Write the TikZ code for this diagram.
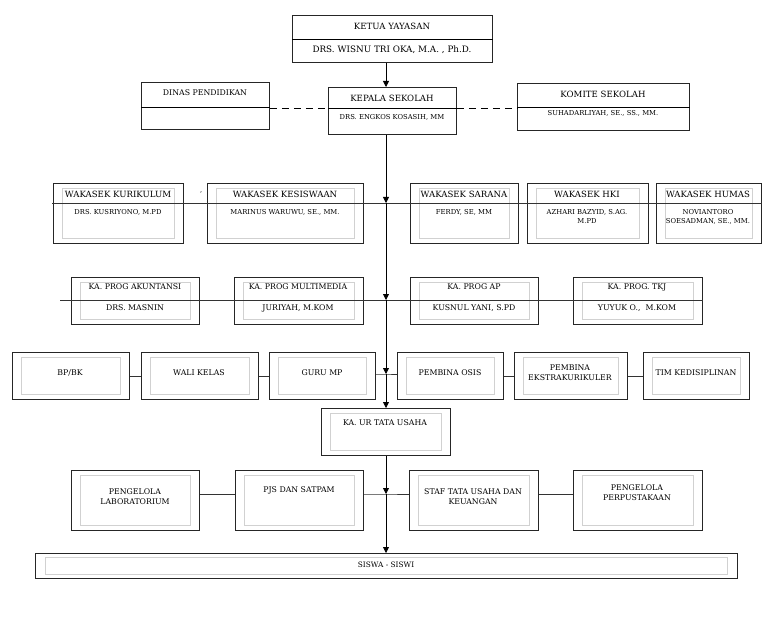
\documentclass[tikz,border=0pt]{standalone}
\usepackage{fontspec}
\setmainfont{DejaVu Serif}
\usetikzlibrary{arrows.meta,shadows}

\begin{document}
\begin{tikzpicture}[x=1pt,y=-1pt,
  hbox/.style 2 args={draw=black!85,line width=0.9pt,anchor=north west,inner sep=0pt,minimum width=#1,minimum height=#2},
  obox/.style 2 args={hbox={#1}{#2},fill=white,
    drop shadow={shadow xshift=0.9pt,shadow yshift=-0.9pt,fill=black!80,opacity=1},
    path picture={\draw[black!18,line width=0.8pt]
      ([shift={(9pt,-5pt)}]path picture bounding box.north west) rectangle
      ([shift={(-9pt,5pt)}]path picture bounding box.south east);}},
  ttl/.style={font=\fontsize{8.6}{10}\selectfont,inner sep=0pt},
  mid/.style={font=\fontsize{7.8}{10}\selectfont,inner sep=0pt,align=center},
  nm/.style={font=\fontsize{6.8}{9.5}\selectfont,inner sep=0pt,align=center,anchor=north},
  rowline/.style={black!80,line width=0.9pt},
  arr/.style={black,line width=0.8pt,-{Triangle[length=6pt,width=6pt]}}]
  \useasboundingbox (0,0) rectangle (768,639);

  % pimpinan
  \node[hbox={200pt}{47pt}] (ketua) at (292,15) {};
  \draw[line width=0.9pt] (ketua.west |- 0,39) -- (ketua.east |- 0,39);
  \node[ttl] (ketuat) at (392,26) {KETUA YAYASAN};
  \node[mid,font=\fontsize{8.8}{10}\selectfont] (ketuan) at (392,50) {DRS. WISNU TRI OKA, M.A. , Ph.D.};

  \node[hbox={128pt}{47pt}] (dinas) at (141,82) {};
  \draw[line width=0.9pt] (dinas.west |- 0,107) -- (dinas.east |- 0,107);
  \node[mid] (dinast) at (205,93) {DINAS PENDIDIKAN};

  \node[hbox={128pt}{47pt}] (kepala) at (328,87) {};
  \draw[line width=0.9pt] (kepala.west |- 0,108) -- (kepala.east |- 0,108);
  \node[ttl] (kepalat) at (392,98) {KEPALA SEKOLAH};
  \node[nm] (kepalan) at (392,114) {DRS. ENGKOS KOSASIH, MM};

  \node[hbox={172pt}{47pt}] (komite) at (517,83) {};
  \draw[line width=0.9pt] (komite.west |- 0,107) -- (komite.east |- 0,107);
  \node[ttl] (komitet) at (603,94) {KOMITE SEKOLAH};
  \node[nm] (komiten) at (603,110) {SUHADARLIYAH, SE., SS., MM.};

  \draw[line width=0.9pt,dash pattern=on 7pt off 5pt] (dinas.east |- 0,108) -- (kepala.west |- 0,108);
  \draw[line width=0.9pt,dash pattern=on 7pt off 5pt] (kepala.east |- 0,108) -- (komite.west |- 0,108);

  % wakil kepala sekolah
  \node[obox={130pt}{60pt}] (wk1) at (53,183) {};
  \node[obox={156pt}{60pt}] (wk2) at (207,183) {};
  \node[obox={108pt}{60pt}] (wk3) at (410,183) {};
  \node[obox={121pt}{60pt}] (wk4) at (527,183) {};
  \node[obox={105pt}{60pt}] (wk5) at (656,183) {};
  \node[ttl] (wk1t) at (118,194) {WAKASEK KURIKULUM};
  \node[ttl] (wk2t) at (285,194) {WAKASEK KESISWAAN};
  \node[ttl] (wk3t) at (464,194) {WAKASEK SARANA};
  \node[ttl] (wk4t) at (587,194) {WAKASEK HKI};
  \node[ttl] (wk5t) at (708,194) {WAKASEK HUMAS};
  \node[nm] (wk1n) at (118,209) {DRS. KUSRIYONO, M.PD};
  \node[nm] (wk2n) at (285,209) {MARINUS WARUWU, SE., MM.};
  \node[nm] (wk3n) at (464,209) {FERDY, SE, MM};
  \node[nm] (wk4n) at (587,209) {AZHARI BAZYID, S.AG.\\M.PD};
  \node[nm] (wk5n) at (708,209) {NOVIANTORO\\SOESADMAN, SE., MM.};
  \node[nm] (tick) at (201,191) {`};

  % ketua program keahlian
  \node[obox={128pt}{47pt}] (ak) at (71,277) {};
  \node[obox={129pt}{47pt}] (mm) at (234,277) {};
  \node[obox={128pt}{47pt}] (ap) at (410,277) {};
  \node[obox={129pt}{47pt}] (tkj) at (573,277) {};
  \node[mid] (akt) at (135,287) {KA. PROG AKUNTANSI};
  \node[mid] (mmt) at (298,287) {KA. PROG MULTIMEDIA};
  \node[mid] (apt) at (474,287) {KA. PROG AP};
  \node[mid] (tkjt) at (637,287) {KA. PROG. TKJ};
  \node[mid] (akn) at (135,308) {DRS. MASNIN};
  \node[mid] (mmn) at (298,308) {JURIYAH, M.KOM};
  \node[mid] (apn) at (474,308) {KUSNUL YANI, S.PD};
  \node[mid] (tkjn) at (637,308) {YUYUK O.,\ \ M.KOM};

  % guru dan pembina
  \node[obox={117pt}{47pt}] (bp) at (12,352) {};
  \node[obox={117pt}{47pt}] (wali) at (141,352) {};
  \node[obox={106pt}{47pt}] (guru) at (269,352) {};
  \node[obox={106pt}{47pt}] (osis) at (397,352) {};
  \node[obox={113pt}{47pt}] (eks) at (514,352) {};
  \node[obox={106pt}{47pt}] (tim) at (643,352) {};
  \node[mid] (bpt) at (70,373) {BP/BK};
  \node[mid] (walit) at (199,373) {WALI KELAS};
  \node[mid] (gurut) at (322,373) {GURU MP};
  \node[mid] (osist) at (450,373) {PEMBINA OSIS};
  \node[mid] (ekst) at (570,373) {PEMBINA\\EKSTRAKURIKULER};
  \node[mid] (timt) at (696,373) {TIM KEDISIPLINAN};

  % tata usaha
  \node[obox={129pt}{47pt}] (kaur) at (321,408) {};
  \node[mid] (kaurt) at (385,423) {KA. UR TATA USAHA};

  \node[obox={128pt}{60pt}] (lab) at (71,470) {};
  \node[obox={128pt}{60pt}] (pjs) at (235,470) {};
  \node[obox={129pt}{60pt}] (staf) at (409,470) {};
  \node[obox={129pt}{60pt}] (perp) at (573,470) {};
  \node[mid] (labt) at (135,497) {PENGELOLA\\LABORATORIUM};
  \node[mid] (pjst) at (299,490) {PJS DAN SATPAM};
  \node[mid] (staft) at (473,497) {STAF TATA USAHA DAN\\KEUANGAN};
  \node[mid] (perpt) at (637,493) {PENGELOLA\\PERPUSTAKAAN};

  \node[obox={702pt}{25pt},path picture={\draw[black!18,line width=0.8pt]
      ([shift={(10pt,-4pt)}]path picture bounding box.north west) rectangle
      ([shift={(-10pt,4pt)}]path picture bounding box.south east);}] (siswa) at (35,553) {};
  \node[nm,anchor=center,font=\fontsize{7.4}{9}\selectfont] (siswat) at (386,565) {SISWA - SISWI};

  % garis komando
  \coordinate (s2) at (386,203);
  \coordinate (s3) at (386,300);
  \coordinate (s4) at (386,374);
  \coordinate (s5) at (386,494);
  \coordinate (r3a) at (60,300);
  \draw[rowline] (wk1.west |- s2) ++(-1,0) -- (wk5.east |- s2);
  \draw[rowline] (r3a) -- (tkj.east |- s3);
  \draw[rowline] (bp.east) -- (wali.west);
  \draw[rowline] (wali.east) -- (guru.west);
  \draw[rowline] (guru.east |- s4) -- (s4) -- (osis.west |- s4);
  \draw[rowline] (osis.east) -- (eks.west);
  \draw[rowline] (eks.east) -- (tim.west);
  \draw[rowline] (lab.east |- s5) -- (pjs.west |- s5);
  \draw[rowline] (pjs.east |- s5) -- (s5) -- (staf.west |- s5);
  \draw[rowline] (staf.east |- s5) -- (perp.west |- s5);

  \draw[arr] (ketua.south -| s2) -- (kepala.north -| s2);
  \draw[arr] (kepala.south -| s2) -- (s2);
  \draw[arr] (s2) -- (s3);
  \draw[arr] (s3) -- (s4);
  \draw[arr] (s4) -- (kaur.north -| s4);
  \draw[arr] (kaur.south -| s5) -- (s5);
  \draw[arr] (s5) -- (siswa.north -| s5);
\end{tikzpicture}
\end{document}
